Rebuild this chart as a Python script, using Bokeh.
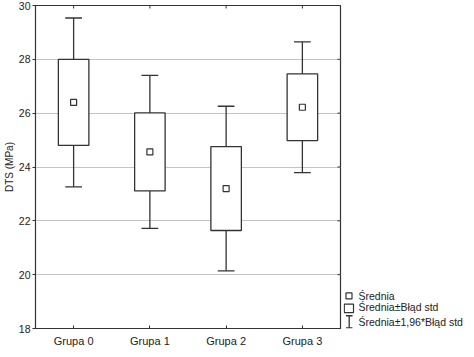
from bokeh.plotting import figure
from bokeh.layouts import row
from bokeh.models import FixedTicker, Range1d, ColumnDataSource
from bokeh.embed import file_html
from bokeh.resources import INLINE
from bokeh.core.properties import value

# ---- data ----
categories = ["Grupa 0", "Grupa 1", "Grupa 2", "Grupa 3"]
means = [26.40, 24.56, 23.20, 26.22]
std_err = [1.60, 1.45, 1.56, 1.24]
y_ticks = [18, 20, 22, 24, 26, 28, 30]
y_label = "DTS (MPa)"
legend_labels = ["Średnia", "Średnia±Błąd std", "Średnia±1,96*Błąd std"]

FONT = "Liberation Sans"
INK = "#333333"
TXT = "#222222"

xs = list(range(len(categories)))
box_lo = [m - s for m, s in zip(means, std_err)]
box_hi = [m + s for m, s in zip(means, std_err)]
wh_lo = [m - 1.96 * s for m, s in zip(means, std_err)]
wh_hi = [m + 1.96 * s for m, s in zip(means, std_err)]

src = ColumnDataSource(dict(x=xs, mean=means, blo=box_lo, bhi=box_hi, wlo=wh_lo, whi=wh_hi,
                            xl=[x - 0.2 for x in xs], xr=[x + 0.2 for x in xs],
                            cl=[x - 0.11 for x in xs], cr=[x + 0.11 for x in xs]))

PW, H = 343, 349
BR, BT, BB = 3, 5, 21
p = figure(width=PW, height=H, x_range=Range1d(-0.5, 3.5), y_range=Range1d(y_ticks[0], y_ticks[-1]),
           output_backend="svg", toolbar_location=None,
           min_border_left=28, min_border_right=BR, min_border_top=BT, min_border_bottom=BB)
p.background_fill_color = "white"
p.border_fill_color = "white"
p.outline_line_color = INK
p.outline_line_width = 1.2

# grid
p.xgrid.visible = False
p.ygrid.ticker = FixedTicker(ticks=y_ticks[1:-1])
p.ygrid.grid_line_color = "#c4c4c4"
p.ygrid.grid_line_width = 1

# left axis
ya = p.yaxis[0]
ya.ticker = FixedTicker(ticks=y_ticks)
ya.major_tick_out = 3
ya.major_tick_in = 0
ya.minor_tick_line_color = None
ya.major_tick_line_color = INK
ya.axis_line_color = INK
ya.major_label_text_font = FONT
ya.major_label_text_font_size = "10.5px"
ya.major_label_text_color = TXT
ya.major_label_standoff = 2
ya.axis_label = y_label
ya.axis_label_text_font = FONT
ya.axis_label_text_font_size = "10px"
ya.axis_label_text_font_style = "normal"
ya.axis_label_text_color = TXT
ya.axis_label_standoff = 1

# bottom axis
xa = p.xaxis[0]
xa.ticker = FixedTicker(ticks=xs)
xa.major_label_overrides = {x: c for x, c in zip(xs, categories)}
xa.major_tick_in = 3
xa.major_tick_out = 0
xa.minor_tick_line_color = None
xa.major_tick_line_color = INK
xa.axis_line_color = INK
xa.major_label_text_font = FONT
xa.major_label_text_font_size = "11px"
xa.major_label_text_color = TXT
xa.major_label_standoff = 6

# inner ticks on the top and right frame edges
frame_h = H - BT - BB
px_y = frame_h / (y_ticks[-1] - y_ticks[0])
px_x = 304 / 4.0
tk = 3
p.segment(x0=xs, x1=xs, y0=[y_ticks[-1]] * len(xs), y1=[y_ticks[-1] - tk / px_y] * len(xs),
          line_color=INK, line_width=1)
inner = y_ticks[1:-1]
p.segment(x0=[3.5] * len(inner), x1=[3.5 - tk / px_x] * len(inner), y0=inner, y1=inner,
          line_color=INK, line_width=1)

# whiskers
p.segment(x0="x", y0="wlo", x1="x", y1="whi", source=src, line_color=INK, line_width=1.3)
p.segment(x0="cl", y0="whi", x1="cr", y1="whi", source=src, line_color=INK, line_width=1.3)
p.segment(x0="cl", y0="wlo", x1="cr", y1="wlo", source=src, line_color=INK, line_width=1.3)
# boxes
p.quad(left="xl", right="xr", bottom="blo", top="bhi", source=src,
       fill_color="white", line_color=INK, line_width=1.3)
# means
p.scatter(x="x", y="mean", source=src, marker="square", size=6,
          fill_color="white", line_color=INK, line_width=1.2)

# ---- legend panel (pixel coordinates, y downward) ----
LW = 466 - PW
lf = figure(width=LW, height=H, x_range=Range1d(0, LW), y_range=Range1d(H, 0),
            output_backend="svg", toolbar_location=None, x_axis_type=None, y_axis_type=None,
            min_border=0)
lf.outline_line_color = None
lf.background_fill_color = "white"
lf.border_fill_color = "white"
lf.xgrid.visible = False
lf.ygrid.visible = False

ox = PW
# mean icon
lf.scatter(x=[348.5 - ox], y=[313.8], marker="square", size=6,
           fill_color="white", line_color=INK, line_width=1.2)
# box icon
lf.quad(left=[343.8 - ox], right=[353 - ox], top=[322.6], bottom=[331.8],
        fill_color="white", line_color=INK, line_width=1.2)
# whisker icon
lf.segment(x0=[348.7 - ox], x1=[348.7 - ox], y0=[335.2], y1=[348.3], line_color=INK, line_width=1.3)
lf.segment(x0=[345.5 - ox, 345.5 - ox], x1=[352 - ox, 352 - ox], y0=[335.2, 348.3], y1=[335.2, 348.3],
           line_color=INK, line_width=1.3)
lf.text(x=[358 - ox] * 3, y=[313.8, 326.2, 341.7], text=legend_labels,
        text_font=value(FONT), text_font_size="10.5px", text_color=TXT,
        text_baseline="middle", text_align="left")

layout = row(p, lf, spacing=0)
open("out.html", "w").write(file_html(layout, INLINE))
